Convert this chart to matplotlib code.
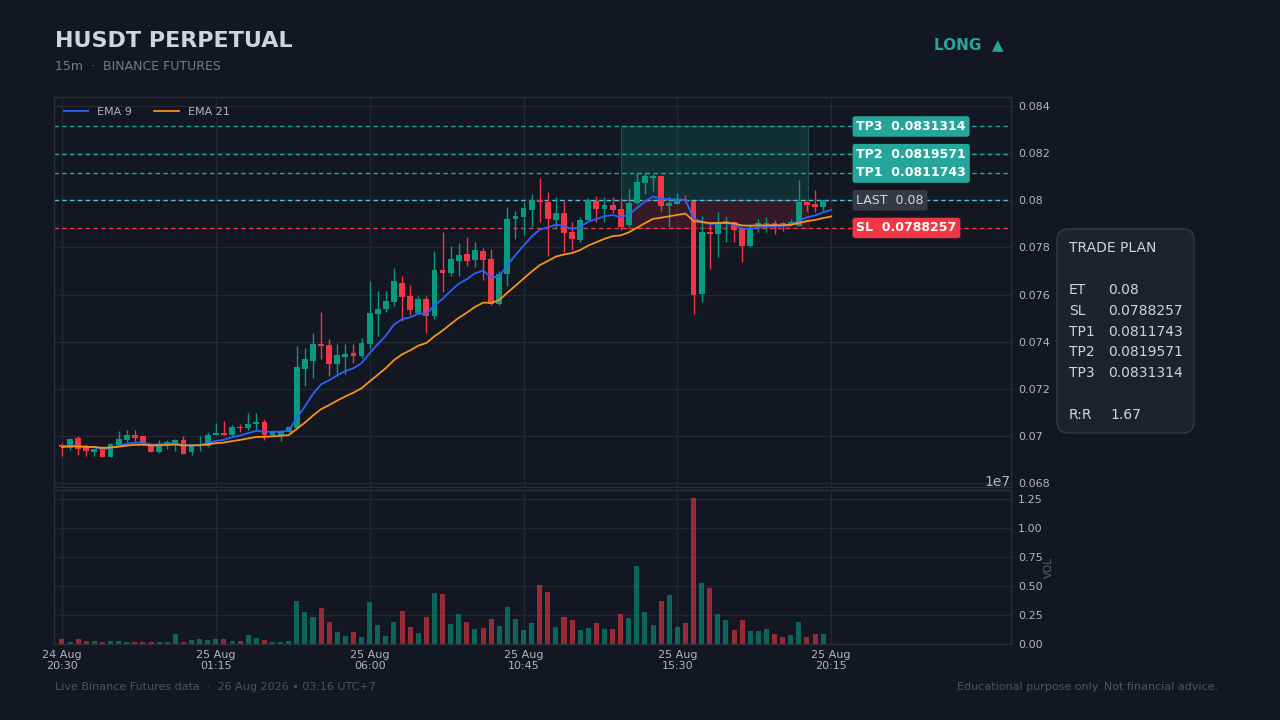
import numpy as np
import pandas as pd
import matplotlib
matplotlib.use("Agg")
import matplotlib.pyplot as plt
from matplotlib.patches import Rectangle, FancyBboxPatch
from matplotlib.ticker import FuncFormatter

# ---------------- data ----------------
title = "HUSDT PERPETUAL"
subtitle = "15m  ·  BINANCE FUTURES"
start_time = "2026-08-24 20:30"

opens = [0.06962, 0.06949, 0.06991, 0.06953, 0.06932, 0.06949, 0.06912, 0.06962, 0.06982, 0.07006,
         0.06999, 0.06963, 0.06932, 0.06967, 0.06967, 0.06984, 0.06932, 0.06962, 0.06956, 0.07006,
         0.07014, 0.07003, 0.07038, 0.07034, 0.07050, 0.07058, 0.07004, 0.07004, 0.07016, 0.07034,
         0.07282, 0.07318, 0.07389, 0.07384, 0.07304, 0.07335, 0.07350, 0.07339, 0.07389, 0.07516,
         0.07538, 0.07569, 0.07651, 0.07594, 0.07523, 0.07580, 0.07509, 0.07704, 0.07691, 0.07743,
         0.07772, 0.07748, 0.07783, 0.07750, 0.07559, 0.07687, 0.07921, 0.07930, 0.07959, 0.08000,
         0.07993, 0.07916, 0.07946, 0.07864, 0.07831, 0.07916, 0.07999, 0.07963, 0.07980, 0.07963,
         0.07895, 0.07989, 0.08074, 0.08095, 0.08102, 0.07977, 0.07984, 0.08001, 0.07999, 0.07602,
         0.07864, 0.07857, 0.07906, 0.07909, 0.07878, 0.07807, 0.07895, 0.07898, 0.07904, 0.07904,
         0.07897, 0.07892, 0.07991, 0.07984, 0.07970, 0.08000]
highs = [0.06970, 0.06991, 0.06999, 0.06967, 0.06946, 0.06956, 0.06970, 0.07020, 0.07024, 0.07024,
         0.07001, 0.06967, 0.06984, 0.06982, 0.06989, 0.06999, 0.06967, 0.06999, 0.07016, 0.07055,
         0.07065, 0.07048, 0.07051, 0.07098, 0.07098, 0.07070, 0.07027, 0.07027, 0.07041, 0.07382,
         0.07374, 0.07438, 0.07528, 0.07410, 0.07389, 0.07389, 0.07389, 0.07417, 0.07658, 0.07616,
         0.07613, 0.07711, 0.07679, 0.07641, 0.07592, 0.07594, 0.07786, 0.07867, 0.07807, 0.07818,
         0.07846, 0.07825, 0.07797, 0.07795, 0.07700, 0.07970, 0.07956, 0.07994, 0.08027, 0.08094,
         0.08034, 0.08013, 0.07999, 0.07906, 0.07928, 0.08011, 0.08020, 0.08013, 0.08013, 0.08010,
         0.08048, 0.08122, 0.08119, 0.08111, 0.08102, 0.08020, 0.08031, 0.08023, 0.07999, 0.07935,
         0.07899, 0.07949, 0.07935, 0.07909, 0.07878, 0.07899, 0.07921, 0.07928, 0.07918, 0.07909,
         0.07920, 0.08084, 0.07991, 0.08044, 0.08001, 0.08003]
lows = [0.06913, 0.06942, 0.06921, 0.06913, 0.06913, 0.06909, 0.06909, 0.06959, 0.06974, 0.06974,
        0.06963, 0.06932, 0.06928, 0.06946, 0.06935, 0.06925, 0.06918, 0.06935, 0.06953, 0.07006,
        0.07003, 0.06999, 0.07017, 0.07027, 0.07027, 0.06982, 0.07001, 0.06977, 0.07013, 0.07034,
        0.07211, 0.07247, 0.07325, 0.07254, 0.07254, 0.07261, 0.07308, 0.07332, 0.07367, 0.07424,
        0.07526, 0.07552, 0.07488, 0.07512, 0.07520, 0.07435, 0.07498, 0.07611, 0.07680, 0.07677,
        0.07722, 0.07716, 0.07662, 0.07556, 0.07556, 0.07637, 0.07835, 0.07852, 0.07885, 0.07906,
        0.07765, 0.07878, 0.07779, 0.07790, 0.07821, 0.07913, 0.07906, 0.07906, 0.07946, 0.07874,
        0.07888, 0.07984, 0.08026, 0.08041, 0.07956, 0.07888, 0.07984, 0.07990, 0.07519, 0.07570,
        0.07708, 0.07760, 0.07821, 0.07824, 0.07739, 0.07800, 0.07864, 0.07864, 0.07857, 0.07868,
        0.07894, 0.07889, 0.07956, 0.07952, 0.07956, 0.07998]
closes = [0.06953, 0.06989, 0.06946, 0.06938, 0.06946, 0.06912, 0.06967, 0.06989, 0.07006, 0.06991,
          0.06970, 0.06932, 0.06967, 0.06973, 0.06982, 0.06925, 0.06959, 0.06964, 0.07006, 0.07014,
          0.07003, 0.07038, 0.07034, 0.07052, 0.07058, 0.07004, 0.07016, 0.07020, 0.07037, 0.07292,
          0.07325, 0.07389, 0.07382, 0.07304, 0.07342, 0.07346, 0.07339, 0.07393, 0.07521, 0.07540,
          0.07573, 0.07658, 0.07590, 0.07533, 0.07583, 0.07509, 0.07704, 0.07691, 0.07750, 0.07767,
          0.07743, 0.07789, 0.07748, 0.07559, 0.07689, 0.07921, 0.07935, 0.07967, 0.08001, 0.07994,
          0.07921, 0.07946, 0.07861, 0.07836, 0.07916, 0.08001, 0.07963, 0.07980, 0.07959, 0.07888,
          0.07989, 0.08077, 0.08102, 0.08102, 0.07977, 0.07989, 0.08001, 0.07996, 0.07599, 0.07864,
          0.07857, 0.07909, 0.07912, 0.07875, 0.07807, 0.07881, 0.07904, 0.07904, 0.07895, 0.07898,
          0.07906, 0.07991, 0.07982, 0.07970, 0.08001, 0.08001]
# volume in millions
vol_m = [0.43, 0.17, 0.43, 0.26, 0.26, 0.17, 0.26, 0.26, 0.17, 0.17,
         0.17, 0.17, 0.17, 0.17, 0.86, 0.17, 0.35, 0.43, 0.35, 0.43,
         0.43, 0.26, 0.26, 0.78, 0.52, 0.35, 0.17, 0.17, 0.26, 3.72,
         2.77, 2.33, 3.11, 1.90, 1.04, 0.69, 1.04, 0.61, 3.63, 1.64,
         0.69, 1.90, 2.85, 1.47, 0.95, 2.33, 4.41, 4.32, 1.73, 2.59,
         1.90, 1.30, 1.38, 2.16, 1.56, 3.20, 2.16, 1.21, 1.82, 5.10,
         4.50, 1.47, 2.33, 2.07, 1.21, 1.38, 1.82, 1.30, 1.30, 2.59,
         2.25, 6.74, 2.77, 1.64, 3.72, 4.24, 1.47, 1.82, 12.62, 5.27,
         4.84, 2.59, 2.07, 1.21, 2.07, 1.12, 1.12, 1.30, 0.86, 0.61,
         0.78, 1.90, 0.61, 0.86, 0.86, 0.0]

entry = 0.08
last_price = 0.08
sl = 0.0788257
tp1 = 0.0811743
tp2 = 0.0819571
tp3 = 0.0831314
rr = "1.67"
price_ticks = [0.068, 0.070, 0.072, 0.074, 0.076, 0.078, 0.080, 0.082, 0.084]
vol_ticks = [0.0, 0.25e7, 0.5e7, 0.75e7, 1.0e7, 1.25e7]

# ---------------- style ----------------
BG = "#131722"
GRID = "#232733"
SPINE = "#2a2e39"
TXT = "#b2b5be"
UP = "#089981"
DN = "#f23645"
TPC = "#26a69a"
LASTC = "#4fc3e8"

opens_a = np.array(opens); closes_a = np.array(closes)
highs_a = np.array(highs); lows_a = np.array(lows)
volumes = np.array(vol_m) * 1e6
n = len(closes)
idx = np.arange(n)
times = pd.date_range(start_time, periods=n, freq="15min")
is_up = closes_a >= opens_a
colors = np.where(is_up, UP, DN)

ema9 = pd.Series(closes_a).ewm(span=9, adjust=False).mean()
ema21 = pd.Series(closes_a).ewm(span=21, adjust=False).mean()

fig = plt.figure(figsize=(12.8, 7.2), dpi=100, facecolor=BG)
ax = fig.add_axes([0.04242, 0.32319, 0.7474, 0.54167], facecolor=BG)
axv = fig.add_axes([0.04242, 0.10556, 0.7474, 0.21347], facecolor=BG, sharex=ax)

for a in (ax, axv):
    for s in a.spines.values():
        s.set_color(SPINE)
        s.set_linewidth(1.0)
    a.grid(True, color=GRID, linewidth=1.0)
    a.set_axisbelow(True)

# zones
zx0, zx1 = 69.1, 92.1
ax.add_patch(Rectangle((zx0, entry), zx1 - zx0, tp3 - entry,
                       facecolor=(0.03, 0.6, 0.5, 0.2), edgecolor=(0.15, 0.65, 0.6, 0.35), linewidth=0.8, zorder=1))
ax.add_patch(Rectangle((zx0, sl), zx1 - zx0, entry - sl,
                       facecolor=(0.95, 0.21, 0.27, 0.15), edgecolor=(0.95, 0.21, 0.27, 0.25), linewidth=0.8, zorder=1))

# candles
ax.vlines(idx, lows_a, highs_a, colors=colors, linewidth=1.0, zorder=3)
body = np.maximum(np.abs(closes_a - opens_a), 0.00003)
ax.bar(idx, body, bottom=np.minimum(opens_a, closes_a), width=0.72, color=colors, linewidth=0, zorder=4)

# EMAs
ax.plot(idx, ema9, color="#2962ff", linewidth=1.3, label="EMA 9", zorder=5)
ax.plot(idx, ema21, color="#f7931a", linewidth=1.3, label="EMA 21", zorder=5)

# horizontal levels
dash = (0, (3.2, 2.4))
for lvl in (tp3, tp2, tp1):
    ax.axhline(lvl, color=TPC, linestyle=dash, linewidth=1.0, zorder=2)
ax.axhline(last_price, color=LASTC, linestyle=dash, linewidth=1.0, zorder=2)
ax.axhline(sl, color=DN, linestyle=dash, linewidth=1.0, zorder=2)

lab_x = 98.1
def tag(y, text, fc, tc, weight="bold"):
    ax.text(lab_x, y, text, color=tc, fontsize=9, fontweight=weight, va="center", ha="left", zorder=7,
            bbox=dict(boxstyle="round,pad=0.3,rounding_size=0.2", facecolor=fc, edgecolor="none"))

tag(tp3, f"TP3  {tp3}", TPC, "white")
tag(tp2, f"TP2  {tp2}", TPC, "white")
tag(tp1, f"TP1  {tp1}", TPC, "white")
tag(last_price, f"LAST  {last_price:g}", "#363a45", "#d1d4dc", weight="normal")
tag(sl, f"SL  {sl}", DN, "white")

ax.set_xlim(-0.95, 117.2)
ax.set_ylim(0.06782, 0.08437)
ax.yaxis.tick_right()
ax.set_yticks(price_ticks)
ax.yaxis.set_major_formatter(FuncFormatter(lambda v, p: f"{v:g}"))
ax.tick_params(axis="y", length=0, pad=5, labelsize=8, labelcolor=TXT)
ax.tick_params(axis="x", length=0, labelbottom=False)

leg = ax.legend(loc="upper left", ncol=2, frameon=False, fontsize=8, handlelength=2.2,
                columnspacing=2.0, borderaxespad=0.45)
for t in leg.get_texts():
    t.set_color(TXT)

# volume
axv.bar(idx, volumes, width=0.62, color=colors, alpha=0.6, linewidth=0)
axv.set_ylim(0, volumes.max() * 1.05)
axv.yaxis.tick_right()
axv.set_yticks(vol_ticks)
axv.tick_params(axis="y", length=0, pad=5, labelsize=8, labelcolor=TXT)
axv.yaxis.get_offset_text().set_color(TXT)
axv.yaxis.set_label_position("right")
axv.set_ylabel("VOL", color="#5d606b", fontsize=7.5, labelpad=1)
tick_idx = list(range(0, n, 19))
axv.set_xticks(tick_idx)
axv.set_xticklabels([times[i].strftime("%d %b\n%H:%M") for i in tick_idx])
axv.tick_params(axis="x", length=0, pad=4, labelsize=8, labelcolor=TXT)

# header
fig.text(55 / 1280, 1 - 47 / 720, title, color="#d1d4dc", fontsize=16, fontweight="bold", va="baseline")
fig.text(55 / 1280, 1 - 70 / 720, subtitle, color="#787b86", fontsize=9, va="baseline")
fig.text(1004 / 1280, 1 - 49 / 720, "LONG  ▲", color=TPC, fontsize=11, fontweight="bold", va="baseline", ha="right")

# trade plan box
fig.add_artist(FancyBboxPatch((10.57, 2.87), 1.37, 2.04, boxstyle="round,pad=0,rounding_size=0.11",
                              transform=fig.dpi_scale_trans, facecolor="#1e222d", edgecolor="#363a45",
                              linewidth=1.0))
TPT = "#d1d4dc"
fig.text(1069 / 1280, 1 - 252.3 / 720, "TRADE PLAN", color=TPT, fontsize=10, va="baseline")
rows = [("ET", f"{entry:g}"), ("SL", f"{sl}"), ("TP1", f"{tp1}"), ("TP2", f"{tp2}"), ("TP3", f"{tp3}")]
for k, (lab, val) in enumerate(rows):
    yb = 294.3 + 20.7 * k
    fig.text(1069 / 1280, 1 - yb / 720, lab, color=TPT, fontsize=10, va="baseline")
    fig.text(1108 / 1280, 1 - yb / 720, val, color=TPT, fontsize=10, va="baseline")
fig.text(1069 / 1280, 1 - 418.5 / 720, "R:R", color=TPT, fontsize=10, va="baseline")
fig.text(1110 / 1280, 1 - 418.5 / 720, rr, color=TPT, fontsize=10, va="baseline")

# footer
fig.text(55 / 1280, 1 - 690 / 720, "Live Binance Futures data  ·  26 Aug 2026 • 03:16 UTC+7",
         color="#50535e", fontsize=8, va="baseline")
fig.text(1218 / 1280, 1 - 690 / 720, "Educational purpose only. Not financial advice.",
         color="#50535e", fontsize=8, va="baseline", ha="right")

fig.savefig("out.png", dpi=100, facecolor=BG)
